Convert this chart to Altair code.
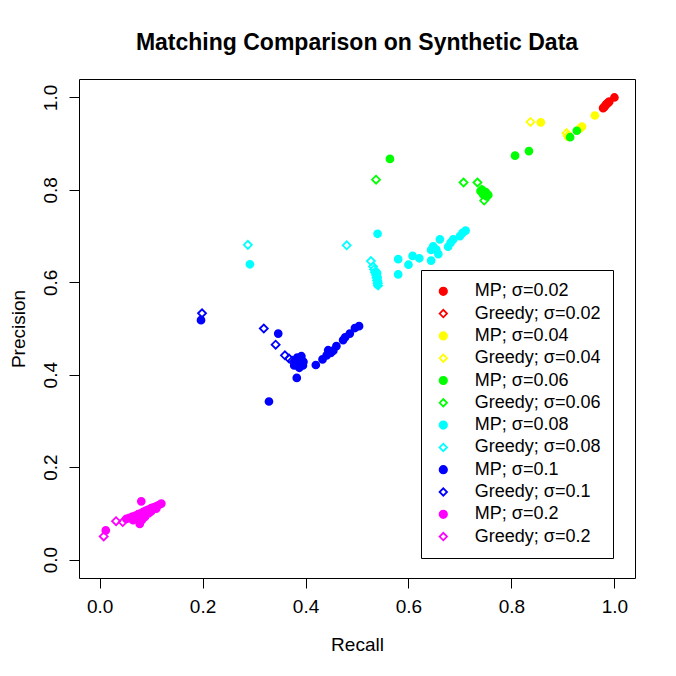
import altair as alt
import pandas as pd

# ---- data ----
sigmas = ["0.02", "0.04", "0.06", "0.08", "0.1", "0.2"]
colors = ["#FF0000", "#FFFF00", "#00FF00", "#00FFFF", "#0000FF", "#FF00FF"]

# MP results (recall, precision)
mp_recall = {
    "0.02": [1.000, 0.990, 0.988, 0.986, 0.984, 0.982, 0.980, 0.978],
    "0.04": [0.857, 0.962, 0.937, 0.933, 0.910],
    "0.06": [0.927, 0.914, 0.834, 0.807, 0.564, 0.743, 0.747, 0.755, 0.740, 0.750, 0.745, 0.752],
    "0.08": [0.292, 0.540, 0.580, 0.580, 0.600, 0.608, 0.621, 0.644, 0.648, 0.654, 0.644, 0.658,
             0.661, 0.677, 0.682, 0.687, 0.700, 0.705, 0.711, 0.541, 0.540, 0.539, 0.540],
    "0.1": [0.197, 0.347, 0.329, 0.383, 0.420, 0.380, 0.385, 0.390, 0.395, 0.388, 0.392, 0.384,
            0.396, 0.378, 0.433, 0.441, 0.444, 0.454, 0.460, 0.473, 0.477, 0.486, 0.496, 0.504, 0.449],
    "0.2": [0.012, 0.081, 0.052, 0.058, 0.064, 0.070, 0.075, 0.080, 0.085, 0.090, 0.095, 0.100,
            0.105, 0.110, 0.115, 0.120, 0.078, 0.082, 0.088, 0.072, 0.095, 0.065, 0.085, 0.100, 0.110],
}
mp_precision = {
    "0.02": [1.000, 0.991, 0.989, 0.987, 0.985, 0.982, 0.979, 0.977],
    "0.04": [0.946, 0.961, 0.937, 0.933, 0.915],
    "0.06": [0.928, 0.914, 0.884, 0.874, 0.867, 0.800, 0.793, 0.789, 0.797, 0.795, 0.790, 0.786],
    "0.08": [0.639, 0.705, 0.650, 0.617, 0.638, 0.657, 0.652, 0.670, 0.678, 0.671, 0.647, 0.661,
             0.693, 0.677, 0.686, 0.693, 0.700, 0.707, 0.712, 0.600, 0.595, 0.620, 0.610],
    "0.1": [0.518, 0.489, 0.342, 0.393, 0.421, 0.430, 0.425, 0.435, 0.420, 0.415, 0.440, 0.437,
            0.428, 0.420, 0.433, 0.442, 0.453, 0.452, 0.462, 0.475, 0.481, 0.489, 0.501, 0.505, 0.447],
    "0.2": [0.063, 0.126, 0.088, 0.090, 0.093, 0.095, 0.098, 0.100, 0.103, 0.106, 0.108, 0.111,
            0.113, 0.115, 0.118, 0.121, 0.077, 0.085, 0.092, 0.088, 0.100, 0.085, 0.095, 0.104, 0.110],
}

# Greedy results (recall, precision)
greedy_recall = {
    "0.02": [],
    "0.04": [0.837, 0.907, 0.909],
    "0.06": [0.537, 0.707, 0.734, 0.747, 0.742, 0.745],
    "0.08": [0.288, 0.480, 0.527, 0.531, 0.533, 0.535, 0.537, 0.538, 0.539, 0.540, 0.541],
    "0.1": [0.199, 0.319, 0.342, 0.360, 0.368, 0.374],
    "0.2": [0.008, 0.032, 0.045],
}
greedy_precision = {
    "0.02": [],
    "0.04": [0.947, 0.923, 0.917],
    "0.06": [0.822, 0.816, 0.816, 0.777, 0.800, 0.795],
    "0.08": [0.681, 0.680, 0.646, 0.634, 0.628, 0.622, 0.616, 0.610, 0.604, 0.598, 0.593],
    "0.1": [0.533, 0.500, 0.465, 0.442, 0.435, 0.430],
    "0.2": [0.050, 0.083, 0.081],
}

tick_values = [0.0, 0.2, 0.4, 0.6, 0.8, 1.0]

# ---- build table ----
rows = []
series_names, fill_range, stroke_range, shape_range = [], [], [], []
for s, c in zip(sigmas, colors):
    mp_name = f"MP; σ={s}"
    gr_name = f"Greedy; σ={s}"
    series_names += [mp_name, gr_name]
    fill_range += [c, "transparent"]
    stroke_range += [c, c]
    shape_range += ["circle", "diamond"]
    for r, p in zip(greedy_recall[s], greedy_precision[s]):
        rows.append({"recall": r, "precision": p, "series": gr_name, "method": "Greedy"})
    for r, p in zip(mp_recall[s], mp_precision[s]):
        rows.append({"recall": r, "precision": p, "series": mp_name, "method": "MP"})
df = pd.DataFrame(rows)

FONT = "Liberation Sans"

leg = alt.Legend(
    title=None,
    orient="none",
    legendX=342,
    legendY=191,
    strokeColor="black",
    fillColor="white",
    padding=12.3,
    rowPadding=4.3,
    labelFontSize=18,
    labelFont=FONT,
    labelColor="black",
    symbolSize=55,
    symbolStrokeWidth=1.8,
    symbolOffset=1,
    labelOffset=22.5,
    cornerRadius=0,
)

chart = (
    alt.Chart(df)
    .mark_point(filled=False, opacity=1, strokeWidth=1.8)
    .encode(
        x=alt.X(
            "recall:Q",
            scale=alt.Scale(domain=[-0.04, 1.04], nice=False, zero=False),
            axis=alt.Axis(
                values=tick_values, format=".1f", title="Recall",
                labelPadding=9, titlePadding=19,
            ),
        ),
        y=alt.Y(
            "precision:Q",
            scale=alt.Scale(domain=[-0.04, 1.04], nice=False, zero=False),
            axis=alt.Axis(
                values=tick_values, format=".1f", title="Precision",
                labelAngle=270, labelAlign="center", labelBaseline="bottom",
                labelPadding=9, titlePadding=13,
            ),
        ),
        fill=alt.Fill("series:N", scale=alt.Scale(domain=series_names, range=fill_range), legend=leg),
        stroke=alt.Stroke("series:N", scale=alt.Scale(domain=series_names, range=stroke_range), legend=leg),
        shape=alt.Shape("series:N", scale=alt.Scale(domain=series_names, range=shape_range), legend=leg),
        size=alt.condition("datum.method == 'MP'", alt.value(48), alt.value(64)),
    )
    .properties(
        width=556,
        height=499,
        autosize=alt.AutoSizeParams(type="none"),
        padding={"left": 71, "top": 71, "right": 20, "bottom": 88},
        title=alt.TitleParams(
            "Matching Comparison on Synthetic Data",
            fontSize=23, fontWeight="bold", font=FONT, color="black",
            anchor="middle", frame="group", baseline="bottom", offset=1,
        ),
    )
    .configure_view(stroke="black", strokeWidth=1)
    .configure_axis(
        domain=False, grid=False, tickColor="black", tickSize=10, tickWidth=1,
        labelFont=FONT, labelFontSize=19, labelColor="black",
        titleFont=FONT, titleFontSize=19, titleFontWeight="normal", titleColor="black",
        labelOverlap=False, labelBound=False, labelFlush=False,
    )
)

chart.save("out.html", embed_options={"renderer": "svg", "actions": False})
